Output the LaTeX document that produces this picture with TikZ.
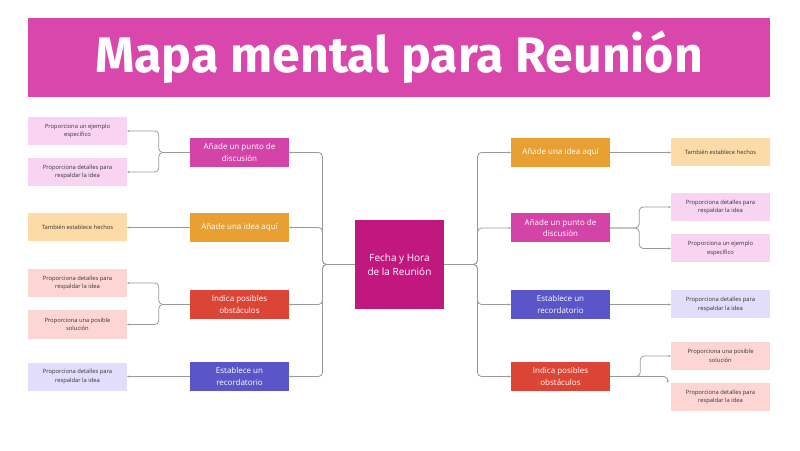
\documentclass[tikz,border=0pt]{standalone}
\usepackage{fontspec}
\setmainfont{Open Sans}
\newfontfamily\titlefont{Fira Sans}
\usetikzlibrary{arrows.meta}
\definecolor{titlebg}{HTML}{D946AC}
\definecolor{hubfill}{HTML}{C2177E}
\definecolor{topicpink}{HTML}{D444A8}
\definecolor{topicorange}{HTML}{E9A033}
\definecolor{topicred}{HTML}{DB4536}
\definecolor{topicblue}{HTML}{5A55C8}
\definecolor{leafpink}{HTML}{F9D3F2}
\definecolor{leaforange}{HTML}{FDDBA6}
\definecolor{leafsalmon}{HTML}{FDD6D3}
\definecolor{leaflilac}{HTML}{E1DDFB}
\definecolor{leaftext}{HTML}{333333}
\definecolor{linkgray}{HTML}{9A9A9A}

\begin{document}
\begin{tikzpicture}[x=1pt,y=1pt,
  every node/.style={inner sep=0pt,align=center},
  topic/.style={minimum width=99pt,minimum height=29pt,text=white,font=\fontsize{8}{11.5}\selectfont},
  leaf/.style={minimum width=99pt,minimum height=28pt,text=leaftext,font=\fontsize{5.8}{8.5}\selectfont},
  link/.style={draw=linkgray,line width=0.8pt,rounded corners=4pt,-{Stealth[length=2.4pt,width=2.2pt]}}]
\useasboundingbox (0,0) rectangle (800,450);
\fill[white] (0,0) rectangle (800,450);
\node[fill=titlebg,minimum width=742pt,minimum height=79pt,text=white,font=\titlefont\bfseries\fontsize{50}{50}\selectfont] (title) at (399,392.5) {Mapa mental para Reunión};
\node[fill=hubfill,minimum width=89pt,minimum height=89pt,text=white,font=\fontsize{10}{14}\selectfont] (hub) at (399.5,185.5) {Fecha y Hora\\de la Reunión};
% left side
\node[topic,fill=topicpink] (l1) at (239.5,297.5) {Añade un punto de\\discusión};
\node[topic,fill=topicorange] (l2) at (239.5,222.5) {Añade una idea aquí};
\node[topic,fill=topicred] (l3) at (239.5,145.5) {Indica posibles\\obstáculos};
\node[topic,fill=topicblue] (l4) at (239.5,73.5) {Establece un\\recordatorio};
\node[leaf,fill=leafpink] (la) at (77.5,319) {Proporciona un ejemplo\\específico};
\node[leaf,fill=leafpink] (lb) at (77.5,278) {Proporciona detalles para\\respaldar la idea};
\node[leaf,fill=leaforange] (lc) at (77.5,222.5) {También establece hechos};
\node[leaf,fill=leafsalmon] (ld) at (77.5,167) {Proporciona detalles para\\respaldar la idea};
\node[leaf,fill=leafsalmon] (le) at (77.5,125.5) {Proporciona una posible\\solución};
\node[leaf,fill=leaflilac] (lf) at (77.5,73.5) {Proporciona detalles para\\respaldar la idea};
% right side
\node[topic,fill=topicorange] (r1) at (560.5,297.5) {Añade una idea aquí};
\node[topic,fill=topicpink] (r2) at (560.5,222) {Añade un punto de\\discusión};
\node[topic,fill=topicblue] (r3) at (560.5,145.5) {Establece un\\recordatorio};
\node[topic,fill=topicred] (r4) at (560.5,73.5) {Indica posibles\\obstáculos};
\node[leaf,fill=leaforange] (ra) at (720.5,297.5) {También establece hechos};
\node[leaf,fill=leafpink] (rb) at (720.5,243) {Proporciona detalles para\\respaldar la idea};
\node[leaf,fill=leafpink] (rc) at (720.5,201.5) {Proporciona un ejemplo\\específico};
\node[leaf,fill=leaflilac] (rd) at (720.5,145.5) {Proporciona detalles para\\respaldar la idea};
\node[leaf,fill=leafsalmon] (re) at (720.5,94) {Proporciona una posible\\solución};
\node[leaf,fill=leafsalmon] (rf) at (720.5,53) {Proporciona detalles para\\respaldar la idea};
% connectors
\coordinate (ltrunk) at (322.5,185.5);
\coordinate (rtrunk) at (477.5,185.5);
\foreach \t in {l1,l2,l3,l4} \draw[link] (hub.west) -- (ltrunk) |- (\t.east);
\foreach \t in {r1,r2,r3,r4} \draw[link] (hub.east) -- (rtrunk) |- (\t.west);
\draw[link] (l1.west) -- ++(-31,0) |- (la.east);
\draw[link] (l1.west) -- ++(-31,0) |- (lb.east);
\draw[link] (l2.west) -- (lc.east);
\draw[link] (l3.west) -- ++(-31,0) |- (ld.east);
\draw[link] (l3.west) -- ++(-31,0) |- (le.east);
\draw[link] (l4.west) -- (lf.east);
\draw[link] (r1.east) -- (ra.west);
\draw[link] (r2.east) -- ++(29,0) |- (rb.west);
\draw[link] (r2.east) -- ++(29,0) |- (rc.west);
\draw[link] (r3.east) -- (rd.west);
\draw[link] (r4.east) -- ++(30,0) |- (re.west);
\draw[link] (r4.east) -| ([xshift=-3pt]rf.north west);
\end{tikzpicture}
\end{document}
